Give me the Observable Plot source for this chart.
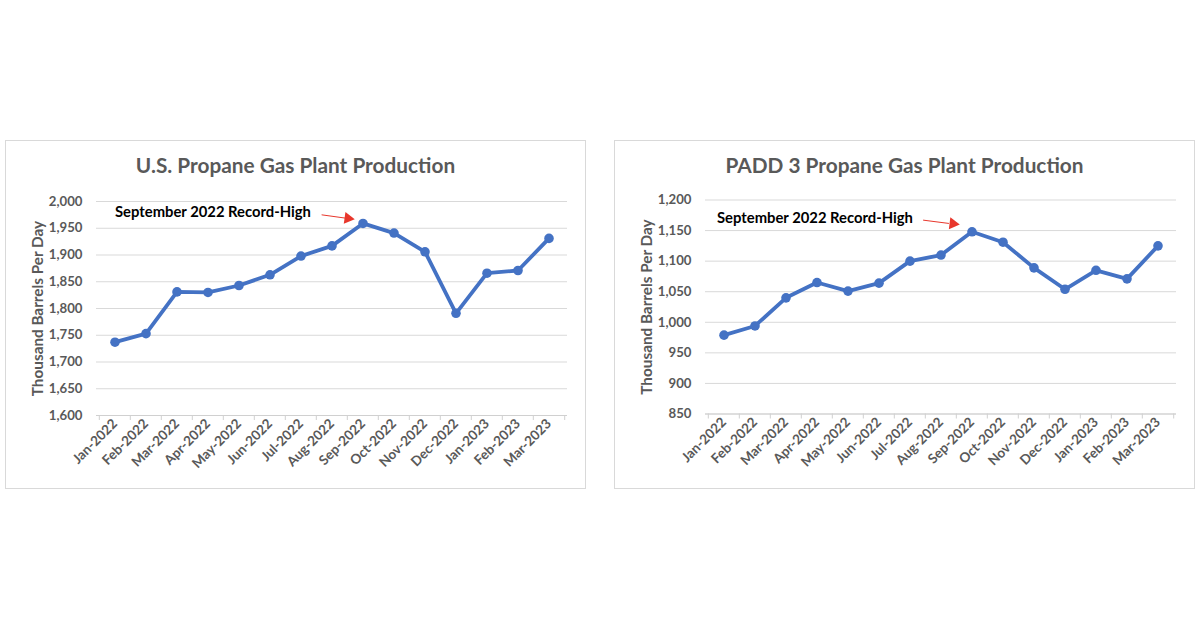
<!DOCTYPE html>
<html>
<head>
<meta charset="utf-8">
<script src="https://cdn.jsdelivr.net/npm/d3@7"></script>
<script src="https://cdn.jsdelivr.net/npm/@observablehq/plot@0.6"></script>
<style>
  html, body { margin: 0; padding: 0; background: #ffffff; }
  body { width: 1200px; height: 630px; position: relative; overflow: hidden; font-family: Lato, "Open Sans", sans-serif; }
  .panel { position: absolute; top: 140px; width: 579px; height: 347px; border: 1px solid #d9d9d9; background: #fff; }
  .panel .title { position: absolute; left: 0; right: 0; top: 12px; text-align: center; font-weight: bold; font-size: 20.8px; line-height: 24px; color: #595959; white-space: nowrap; }
  .panel svg { position: absolute; left: 0; top: 0; }
</style>
</head>
<body>
<div id="left" class="panel"><div class="title"></div></div>
<div id="right" class="panel"><div class="title"></div></div>
<script>
// ---- Data ----
const months = ["Jan-2022","Feb-2022","Mar-2022","Apr-2022","May-2022","Jun-2022","Jul-2022","Aug-2022","Sep-2022","Oct-2022","Nov-2022","Dec-2022","Jan-2023","Feb-2023","Mar-2023"];
const usValues = [1737, 1753, 1831, 1830, 1843, 1863, 1898, 1917, 1959, 1941, 1906, 1791, 1866, 1871, 1931];
const padd3Values = [979, 994, 1040, 1065, 1051, 1064, 1100, 1110, 1148, 1131, 1089, 1054, 1085, 1071, 1125];
const usTicks = [1600, 1650, 1700, 1750, 1800, 1850, 1900, 1950, 2000];
const padd3Ticks = [850, 900, 950, 1000, 1050, 1100, 1150, 1200];
const usTitle = "U.S. Propane Gas Plant Production";
const padd3Title = "PADD 3 Propane Gas Plant Production";
const yLabel = "Thousand Barrels Per Day";
const annotationLabel = "September 2022 Record-High";
const recordMonth = "Sep-2022";
const arrowFromMonth = "Aug-2022";

// ---- Chart builder ----
function makeChart(opts) {
  const W = 579, H = 347;
  const mL = 90, mR = 18;
  const bw = (W - mL - mR) / months.length;
  const data = months.map((m, i) => ({month: m, value: opts.values[i]}));
  const grey = "#595959";
  return Plot.plot({
    width: W, height: H,
    marginLeft: mL, marginRight: mR, marginTop: opts.mTop, marginBottom: opts.mBottom,
    style: {fontFamily: "Lato, 'Open Sans', sans-serif", background: "transparent", overflow: "visible"},
    x: {type: "band", domain: months, padding: 0},
    y: {domain: [opts.ticks[0], opts.ticks[opts.ticks.length - 1]]},
    marks: [
      Plot.gridY(opts.ticks, {stroke: "#d9d9d9", strokeOpacity: 1}),
      Plot.ruleY([opts.ticks[0]], {stroke: "#d0d0d0"}),
      Plot.axisY(opts.ticks, {tickSize: 0, tickPadding: 14, tickFormat: d3.format(","), fill: grey, fontSize: 13.2, fontWeight: "bold", label: null}),
      Plot.axisX({tickSize: 0, tickRotate: -45, tickPadding: 6, fill: grey, fontSize: 13.5, fontWeight: "bold", label: null}),
      Plot.axisX(months, {tickSize: 5, text: null, dx: -bw / 2, stroke: "#d0d0d0", label: null}),
      Plot.axisX([months[months.length - 1]], {tickSize: 5, text: null, dx: bw / 2, stroke: "#d0d0d0", label: null}),
      Plot.text([yLabel], {frameAnchor: "left", rotate: -90, dx: -58, fill: grey, fontSize: 15.3, fontWeight: "bold", textAnchor: "middle"}),
      Plot.line(data, {x: "month", y: "value", stroke: "#4472C4", strokeWidth: 3.8, strokeLinejoin: "round"}),
      Plot.dot(data, {x: "month", y: "value", r: 4.8, fill: "#4472C4", stroke: "none"}),
      Plot.text([annotationLabel], {x: () => months[0], y: () => opts.labelY, textAnchor: "start", dx: opts.labelDx, fill: "#000", fontSize: 14.8, fontWeight: "bold"}),
      Plot.arrow([0], {x1: () => arrowFromMonth, x2: () => recordMonth, y1: () => opts.arrowY1, y2: () => opts.arrowY2, dx: opts.arrowDx, insetEnd: opts.arrowInset, headLength: 0, stroke: "#e8372c", strokeWidth: 1}),
      Plot.dot([0], {x: () => recordMonth, y: () => opts.headY, dx: opts.headDx, symbol: "triangle", r: 4.4, rotate: opts.headRotate, fill: "#e8372c", stroke: "none"})
    ]
  });
}

const left = document.getElementById("left");
left.style.left = "5px";
left.querySelector(".title").textContent = usTitle;
left.appendChild(makeChart({
  values: usValues, ticks: usTicks, mTop: 60, mBottom: 73,
  labelY: 1979, labelDx: 0,
  arrowY1: 1975, arrowY2: 1967, arrowDx: -10, arrowInset: 7,
  headY: 1968.5, headDx: -15, headRotate: 98
}));

const right = document.getElementById("right");
right.style.left = "614px";
right.querySelector(".title").textContent = padd3Title;
right.appendChild(makeChart({
  values: padd3Values, ticks: padd3Ticks, mTop: 58.5, mBottom: 74.5,
  labelY: 1170, labelDx: -7,
  arrowY1: 1167, arrowY2: 1160.5, arrowDx: -17.5, arrowInset: 6,
  headY: 1161.3, headDx: -19, headRotate: 97
}));
</script>
</body>
</html>
